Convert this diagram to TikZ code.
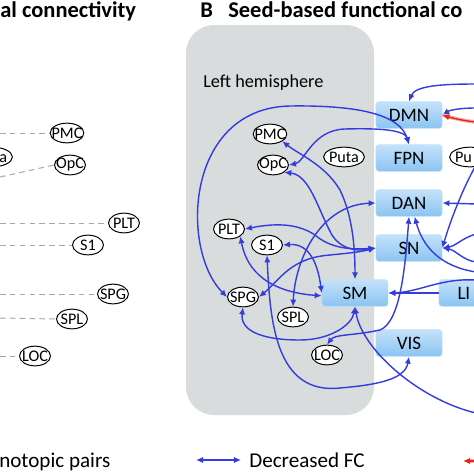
\documentclass[tikz,border=0pt]{standalone}
\usepackage{fontspec}
\setmainfont{Carlito}
\usetikzlibrary{arrows.meta,shapes.geometric}
\definecolor{fcblue}{RGB}{52,60,222}
\definecolor{fcred}{RGB}{232,36,28}
\definecolor{hemigray}{RGB}{216,220,221}
\definecolor{netlight}{RGB}{196,226,250}
\definecolor{netdark}{RGB}{138,196,242}
\begin{document}
\begin{tikzpicture}[x=0.025cm, y=-0.025cm,
  roi/.style={ellipse, draw, line width=0.7pt, fill=white, inner sep=-2.5pt,
    minimum width=22pt, minimum height=14pt, font=\fontsize{11.5}{13}\selectfont},
  net/.style={rectangle, rounded corners=2pt, draw=netlight, top color=netlight,
    bottom color=netdark, minimum width=47pt, minimum height=19pt,
    font=\fontsize{13.5}{15}\selectfont},
  fc/.style={draw=fcblue, line width=1pt,
    {Latex[length=5pt,width=4.5pt]}-{Latex[length=5pt,width=4.5pt]}},
  fcin/.style={draw=fcblue, line width=1pt, -{Latex[length=5pt,width=4.5pt]}},
  pairline/.style={draw=gray!70, line width=0.7pt, dash pattern=on 4pt off 3pt}]
  \useasboundingbox (0,0) rectangle (474,474);

  % titles
  \node[anchor=base west, inner sep=0, font=\fontsize{16}{19}\selectfont\bfseries] (titleA) at (0,17) {al connectivity};
  \node[anchor=base west, inner sep=0, font=\fontsize{16}{19}\selectfont\bfseries] (labelB) at (200,17) {B};
  \node[anchor=base west, inner sep=0, font=\fontsize{16}{19}\selectfont\bfseries] (titleB) at (228,17) {Seed-based functional co};

  % panel A: homotopic pairs
  \node[roi] (aPMC) at (67,133) {PMC};
  \node[roi] (aOpC) at (70,165) {OpC};
  \node[roi, minimum width=29pt] (aPuta) at (-8,157) {\phantom{Put}a};
  \node[roi] (aPLT) at (124,223) {PLT};
  \node[roi] (aS1) at (88,245) {S1};
  \node[roi] (aSPG) at (113,294) {SPG};
  \node[roi] (aSPL) at (72,319) {SPL};
  \node[roi] (aLOC) at (35,356) {LOC};
  \foreach \r/\y in {aPMC/133, aOpC/177, aPLT/223, aS1/245, aSPG/294, aSPL/318, aLOC/356} {
    \coordinate (\r-start) at (0,\y);
    \draw[pairline] (\r-start) -- (\r.west);
  }

  % panel B: left hemisphere
  \fill[hemigray, rounded corners=20pt] (186,25) rectangle (374,415);
  \node[anchor=base west, inner sep=0, font=\fontsize{13}{15}\selectfont] (hemi) at (203,87) {Left hemisphere};

  \node[roi] (bPMC) at (270,134) {PMC};
  \node[roi] (bOpC) at (273,165) {OpC};
  \node[roi, minimum width=29pt] (bPuta) at (344,157) {Puta};
  \node[roi, minimum width=29pt] (rPuta) at (470,157) {Pu\phantom{ta}};
  \node[roi] (bPLT) at (229,229) {PLT};
  \node[roi] (bS1) at (267,245) {S1};
  \node[roi] (bSPG) at (243,297) {SPG};
  \node[roi] (bSPL) at (293,317) {SPL};
  \node[roi] (bLOC) at (327,355) {LOC};

  % networks
  \node[net] (dmn) at (409,115) {DMN};
  \node[net] (fpn) at (409,158) {FPN};
  \node[net] (dan) at (409,203) {DAN};
  \node[net] (sn) at (409,248) {SN};
  \node[net] (sm) at (355,293) {SM};
  \node[net] (li) at (472,293) {LI\phantom{M}};
  \node[net] (vis) at (409,343) {VIS};

  % off-picture ends
  \coordinate (outDMNa) at (476,84);
  \coordinate (outDMNb) at (476,108);
  \coordinate (outDMNc) at (476,122);
  \coordinate (outDAN) at (476,204);
  \coordinate (outSNa) at (476,165);
  \coordinate (outSNb) at (476,234);
  \coordinate (outSNd) at (476,262);
  \coordinate (outDANb) at (476,272);
  \coordinate (outSM) at (476,280);
  \coordinate (outSMb) at (476,413);

  % decreased FC
  \draw[fc] (bSPG.west) .. controls (180,250) and (185,108) .. (290,106) .. controls (360,105) and (400,115) .. (fpn.north);
  \draw[fc] (bOpC.east) .. controls (305,162) and (312,130) .. (345,129) .. controls (380,128) and (405,130) .. (fpn.north);
  \draw[fc] (bPMC.south east) .. controls (300,155) and (325,165) .. (340,190) .. controls (352,215) and (355,245) .. (sm.north);
  \draw[fc] (bOpC.south east) .. controls (310,175) and (318,210) .. (332,235) .. controls (340,248) and (355,252) .. (sn.west);
  \draw[fc] (bPLT.east) .. controls (280,222) and (300,225) .. (315,235) .. controls (330,248) and (350,250) .. (sn.west);
  \draw[fc] (bSPG.east) .. controls (280,280) and (290,258) .. (330,255) .. controls (350,253) and (360,252) .. (sn.west);
  \draw[fc] (bS1.east) .. controls (310,243) and (318,265) .. (sm.west);
  \draw[fc] (bPLT.south east) .. controls (247,272) and (270,292) .. ([yshift=-2pt]sm.west);
  \draw[fc] (bSPL.north) .. controls (295,260) and (320,205) .. (dan.west);
  \draw[fc] (bS1.south) .. controls (270,320) and (275,395) .. (340,388) .. controls (375,385) and (405,380) .. (vis.south);
  \draw[fc] (bSPG.south) .. controls (240,330) and (260,340) .. (300,340) .. controls (330,340) and (352,325) .. (sm.south);
  \draw[fc] (dan.south) .. controls (405,270) and (400,322) .. (380,330) .. controls (352,336) and (335,334) .. (bLOC.north);
  \draw[fcin] (outSMb) .. controls (420,400) and (362,350) .. (sm.south);
  \draw[fcin] (li.west) -- (sm.east);
  \draw[fcin] (outSM) .. controls (440,278) and (420,292) .. (sm.east);
  \draw[fcin] (outDAN) -- (dan.east);
  \draw[fcin] (outDANb) .. controls (450,268) and (425,255) .. ([xshift=4pt]dan.south);
  \draw[fcin] (outSNb) .. controls (462,238) and (456,246) .. (sn.east);
  \draw[fcin] (outSNd) .. controls (462,260) and (456,250) .. (sn.east);
  \draw[fcin] (outSNa) .. controls (462,190) and (450,222) .. (sn.east);
  \draw[fcin] (outDMNa) .. controls (440,84) and (415,86) .. (dmn.north);
  \draw[fcin] (outDMNb) .. controls (460,108) and (450,110) .. (dmn.east);

  % increased FC
  \draw[fcred!35, line width=2.6pt] (outDMNc) .. controls (465,121) and (452,118) .. (dmn.east);
  \draw[draw=fcred, line width=1pt, -{Latex[length=5pt,width=4.5pt]}] (outDMNc) .. controls (465,121) and (452,118) .. (dmn.east);

  % legend
  \node[anchor=base west, inner sep=0, font=\fontsize{15}{18}\selectfont] (pairtext) at (-1,467) {notopic pairs};
  \coordinate (legL) at (196,460);
  \coordinate (legR) at (241,460);
  \draw[fc] (legL) -- (legR);
  \node[anchor=base west, inner sep=0, font=\fontsize{15}{18}\selectfont] (dectext) at (249,467) {Decreased FC};
  \coordinate (redtip) at (463,461);
  \coordinate (redend) at (480,461);
  \draw[fcred!35, line width=2.6pt] (redend) -- ([xshift=3pt]redtip);
  \draw[draw=fcred, line width=1pt, -{Latex[length=5pt,width=4.5pt]}] (redend) -- (redtip);
\end{tikzpicture}
\end{document}
